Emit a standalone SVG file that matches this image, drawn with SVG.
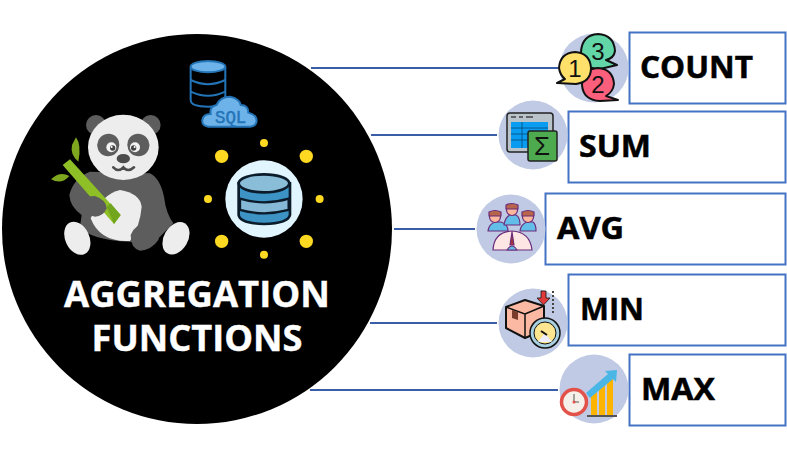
<svg xmlns="http://www.w3.org/2000/svg" width="787" height="459" viewBox="0 0 787 459">
<style>
.box{fill:#fff;stroke:#4472c4;stroke-width:2}
.halo{fill:#c0cae4}
.lbl{font-family:"Open Sans","Liberation Sans",sans-serif;font-weight:700;font-size:30px;fill:#000;stroke:#000;stroke-width:.5}
.title{font-family:"Open Sans","Liberation Sans",sans-serif;font-weight:700;font-size:35px;fill:#fff;stroke:#fff;stroke-width:.4;text-anchor:middle}
.conn{stroke:#3a5da8;stroke-width:2;fill:none}
.num{font-family:"Liberation Sans",sans-serif;font-size:24px;fill:#111;text-anchor:middle}
.ol{stroke:#111;stroke-width:2;stroke-linejoin:round}
.pp{stroke:#6b2d7b;stroke-width:1.2;stroke-linejoin:round}
.gr{fill:#5d5d5d}
.wh{fill:#ededed}
</style>
<rect width="787" height="459" fill="#fff"/>
<g id="connectors">
<path class="conn" d="M311 68H558"/>
<path class="conn" d="M371 135H497"/>
<path class="conn" d="M394 229H475"/>
<path class="conn" d="M370 323H497"/>
<path class="conn" d="M310 390H558"/>
</g>
<g id="hub">
<circle cx="197" cy="229" r="195" fill="#000"/>
<g transform="translate(40 50) scale(.3333)">
<g id="sql-icon">
<path d="M452 50V150Q452 170 505 170Q556 170 556 150V50" fill="#000" stroke="#2474b8" stroke-width="6"/>
<ellipse cx="504" cy="50" rx="52" ry="17" fill="#6db3ea" stroke="#2474b8" stroke-width="6"/>
<path d="M452 90Q504 115 556 90M452 125Q504 150 556 125" fill="none" stroke="#2474b8" stroke-width="6"/>
<path d="M505 230Q485 228 487 210Q490 192 512 192Q508 170 530 165Q540 140 570 140Q598 145 602 165Q625 165 625 188Q650 195 650 212Q648 230 630 230Z" fill="#6db3ea" stroke="#2474b8" stroke-width="6"/>
<text x="572" y="218" font-family="Liberation Mono,monospace" font-size="54" fill="#2474b8" stroke="#2474b8" stroke-width="1.500" text-anchor="middle" textLength="94" lengthAdjust="spacingAndGlyphs">SQL</text>
</g>
<g id="panda">
<circle class="gr" cx="168" cy="225" r="30"/>
<circle class="gr" cx="332" cy="225" r="30"/>
<path class="gr" d="M150 365Q100 385 88 435Q90 470 125 495L120 530Q150 570 270 575L330 590L400 520Q378 490 372 440Q360 385 330 370Z"/>
<path class="wh" d="M152 505Q190 430 240 420Q300 430 305 470Q300 530 270 573Q180 578 152 505Z"/>
<path class="gr" d="M272 555Q285 520 330 515Q370 525 355 570Q335 600 300 602Q272 595 272 555Z"/>
<ellipse class="wh" cx="250" cy="292" rx="106" ry="98"/>
<ellipse class="gr" cx="205" cy="285" rx="33" ry="34" transform="rotate(25 205 285)"/>
<ellipse class="gr" cx="295" cy="285" rx="33" ry="34" transform="rotate(-25 295 285)"/>
<circle cx="214" cy="292" r="15" fill="#f4f4f4"/><circle cx="285" cy="292" r="15" fill="#f4f4f4"/>
<circle cx="218" cy="294" r="8" fill="#444"/><circle cx="281" cy="294" r="8" fill="#444"/>
<circle cx="215" cy="291" r="3" fill="#fff"/><circle cx="284" cy="291" r="3" fill="#fff"/>
<ellipse cx="250" cy="326" rx="20" ry="14" fill="#4d4d4d"/>
<path d="M220 352Q235 368 250 352Q265 368 282 352" fill="none" stroke="#4d4d4d" stroke-width="8" stroke-linecap="round"/>
<path d="M108 262Q125 285 115 335Q90 315 96 285Z" fill="#7fa61f"/>
<path d="M33 388Q60 362 88 378Q65 405 33 388Z" fill="#7fa61f"/>
<path d="M68 345L90 328L242 495L222 522Z" fill="#8ebf26"/>
<path d="M200 470L212 460L242 495L222 522Z" fill="#72a51e"/>
<path class="gr" d="M100 455Q125 440 165 438Q200 450 200 475Q190 500 165 500Q125 490 100 455Z"/>
<ellipse class="wh" cx="112" cy="565" rx="36" ry="52" transform="rotate(-25 112 565)"/>
<ellipse class="wh" cx="408" cy="565" rx="36" ry="52" transform="rotate(30 408 565)"/>
</g>
<g id="db-icon">
<circle cx="545" cy="319" r="20" fill="#fdd922"/><circle cx="799" cy="319" r="20" fill="#fdd922"/>
<circle cx="545" cy="574" r="20" fill="#fdd922"/><circle cx="799" cy="574" r="20" fill="#fdd922"/>
<circle cx="672" cy="279" r="12" fill="#fdd922"/><circle cx="672" cy="614" r="12" fill="#fdd922"/>
<circle cx="504" cy="447" r="12" fill="#fdd922"/><circle cx="839" cy="447" r="12" fill="#fdd922"/>
<circle cx="672" cy="447" r="116" fill="#e0f5fd"/>
<path d="M596 400V495Q600 520 672 522Q745 520 750 495V400Z" fill="#3c93c4" stroke="#0c1b2a" stroke-width="8"/>
<path d="M600 446Q672 468 746 446V480Q672 500 600 480Z" fill="#86b9d6" stroke="#0c1b2a" stroke-width="7"/>
<ellipse cx="672" cy="400" rx="76" ry="27" fill="#8abdd8" stroke="#0c1b2a" stroke-width="8"/>
</g>
</g>
<text class="title" x="197" y="307" textLength="266" lengthAdjust="spacingAndGlyphs">AGGREGATION</text>
<text class="title" x="197" y="351" textLength="211" lengthAdjust="spacingAndGlyphs">FUNCTIONS</text>
</g>
<g id="count">
<rect class="box" x="629.500" y="32.500" width="156" height="71"/>
<circle class="halo" cx="594" cy="68" r="34.500"/>
<path class="ol" d="M606 60L617 65L600 69Q582 69 581 52Q582 35 598 34Q614 35 615 51Q614 58 606 60Z" fill="#62d6a6"/>
<path class="ol" d="M606 96L618 100L600 101Q583 100 582 85Q583 69 598 68Q613 69 614 84Q613 92 606 96Z" fill="#fb5f7c"/>
<path class="ol" d="M565 79L557 83L576 84Q591 82 591 68Q590 53 575 52Q560 53 559 68Q560 75 565 79Z" fill="#fee06a"/>
<text class="num" x="598" y="60">3</text><text class="num" x="598" y="93">2</text><text class="num" x="575" y="77">1</text>
<text class="lbl" x="640" y="78" textLength="113" lengthAdjust="spacingAndGlyphs">COUNT</text>
</g>
<g id="sum">
<rect class="box" x="568.500" y="111.500" width="217" height="71"/>
<circle class="halo" cx="533" cy="135" r="34.500"/>
<rect x="507" y="113" width="46" height="39" rx="3" fill="#b9c3c9" stroke="#222" stroke-width="1.500"/>
<path d="M511 117H516M519 117H523M526 117H533" stroke="#444" stroke-width="1.500"/>
<rect x="511" y="122" width="37" height="26" fill="#0a9cf0"/>
<path d="M511 128H548M511 134H548M511 140H548M522 122V148" stroke="#064a7a" stroke-width=".8"/>
<rect x="528" y="131" width="29" height="30" rx="2" fill="#4eaa4e" stroke="#222" stroke-width="1.500"/>
<text x="542" y="155" font-family="Liberation Sans,sans-serif" font-size="26" fill="#111" text-anchor="middle">Σ</text>
<text class="lbl" x="579" y="157" textLength="72" lengthAdjust="spacingAndGlyphs">SUM</text>
</g>
<g id="avg">
<rect class="box" x="545.500" y="193.500" width="240" height="71"/>
<circle class="halo" cx="511" cy="229" r="34.500"/>
<g class="pp">
<path d="M488 231Q489 224 495 222H501Q508 224 508 231Z" fill="#63bde9"/>
<circle cx="495" cy="217" r="5.500" fill="#fbb89d"/><path d="M489 216V212Q495 209 501 212V216Z" fill="#b7654a"/>
<path d="M520 231Q521 224 527 222H533Q536 224 536 231Z" fill="#63bde9"/>
<circle cx="528" cy="217" r="5.500" fill="#fbb89d"/><path d="M522 216V212Q528 209 534 212V216Z" fill="#b7654a"/>
<path d="M504 225Q505 217 510 215H516Q520 217 520 225Z" fill="#63bde9"/>
<circle cx="512" cy="210" r="5.500" fill="#fbb89d"/><path d="M506 209V205Q512 202 518 205V209Z" fill="#b7654a"/>
<path d="M493 250Q494 232 512 231Q530 232 532 250Z" fill="#fde6e4"/>
<path d="M512 232L514 245H510Z" fill="#a33"/>
<path d="M507 250Q512 242 517 250Z" fill="#63bde9"/>
</g>
<text class="lbl" x="557" y="239" textLength="67" lengthAdjust="spacingAndGlyphs">AVG</text>
</g>
<g id="min">
<rect class="box" x="568.500" y="274.500" width="217" height="71"/>
<circle class="halo" cx="533" cy="323" r="34.500"/>
<path class="ol" d="M506 307L525 300L544 306V330L525 338L506 328Z" fill="#fbb8a3"/>
<path d="M506 307L525 314V338M525 314L544 306" fill="none" stroke="#111" stroke-width="1.500"/>
<path d="M512 310L518 312V320L512 318Z" fill="#7a3d2b"/>
<path d="M541 291H546V298H550L543.500 305L537 298H541Z" fill="#e03a3a" stroke="#111" stroke-width=".8"/>
<path d="M553 291V313" stroke="#444" stroke-width="2" stroke-dasharray="2 2"/>
<circle cx="545" cy="333" r="15" fill="#a8d0e0" stroke="#111" stroke-width="1.500"/>
<circle cx="545" cy="333" r="11" fill="#fde68f" stroke="#111" stroke-width="1"/>
<path d="M545 333L552 342L538 342Z" fill="#eef"/><path d="M541 331L547 335" stroke="#111" stroke-width="2"/>
<text class="lbl" x="580" y="320" textLength="64" lengthAdjust="spacingAndGlyphs">MIN</text>
</g>
<g id="max">
<rect class="box" x="629.500" y="354.500" width="156" height="71"/>
<circle class="halo" cx="594" cy="389" r="34.500"/>
<path d="M591 415V395L597 391V415ZM599 415V389L605 384V415ZM607 415V382L613 377V415Z" fill="#fdb400"/>
<path d="M586 393L608 374L605 371L617 370L616 382L613 379L590 398Z" fill="#49b6e5"/>
<path d="M587 416H617" stroke="#555" stroke-width="2"/>
<circle cx="574" cy="402" r="12.500" fill="#f5f0ea" stroke="#e2524a" stroke-width="3.500"/>
<path d="M574 394V402H579" stroke="#555" stroke-width="1" fill="none"/>
<circle cx="574" cy="402" r="1.500" fill="#e2524a"/>
<text class="lbl" x="641" y="400" textLength="74" lengthAdjust="spacingAndGlyphs">MAX</text>
</g>
</svg>
